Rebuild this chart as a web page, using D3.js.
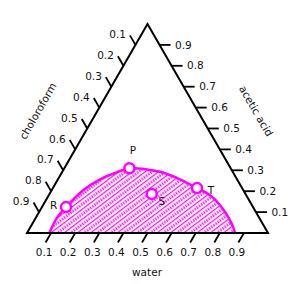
<!DOCTYPE html>
<html>
<head>
<meta charset="utf-8">
<script src="https://cdn.jsdelivr.net/npm/d3@7/dist/d3.min.js"></script>
<style>
  body { margin: 0; background: #fff; }
  svg text { font-family: "DejaVu Sans", Verdana, sans-serif; font-size: 10.5px; fill: #111; }
</style>
</head>
<body>
<svg></svg>
<script>
const width = 295;
const height = 284;

// axis tick values (same for all three sides)
const tickValues = [0.1, 0.2, 0.3, 0.4, 0.5, 0.6, 0.7, 0.8, 0.9];
const axisTitles = ['water', 'acetic acid', 'choloroform'];

// binodal curve, as (water, acetic acid) fractions
const binodalWater = [0.093, 0.088, 0.10, 0.131, 0.175, 0.227, 0.27, 0.36, 0.43, 0.533, 0.598, 0.68, 0.77, 0.833, 0.863];
const binodalAcid  = [0.0, 0.07, 0.124, 0.206, 0.257, 0.29, 0.31, 0.301, 0.286, 0.245, 0.215, 0.174, 0.102, 0.038, 0.0];

// marked points
const pointNames = ['R', 'P', 'S', 'T'];
const pointWater = [0.10, 0.27, 0.424, 0.598];
const pointAcid  = [0.124, 0.31, 0.187, 0.215];

const magenta = '#ff00ff';

const svg = d3.select('svg')
    .attr('width', width)
    .attr('height', height);

// ternary projection: water -> right corner, acetic acid -> top, chloroform -> left
const x = d3.scaleLinear().domain([0, 1]).range([27, 268]);
const y = d3.scaleLinear().domain([0, 1]).range([233, 24]);
const project = (w, a) => [x(w + a / 2), y(a)];

// hatch pattern: thin solid lines with dotted lines in between
const defs = svg.append('defs');
const pat = defs.append('pattern')
    .attr('id', 'hatch')
    .attr('patternUnits', 'userSpaceOnUse')
    .attr('width', 8)
    .attr('height', 8)
    .attr('patternTransform', 'rotate(-37)');
pat.append('line')
    .attr('x1', 0).attr('y1', 0.6).attr('x2', 8).attr('y2', 0.6)
    .attr('stroke', magenta).attr('stroke-width', 1.2);
pat.append('line')
    .attr('x1', 0).attr('y1', 4.6).attr('x2', 8).attr('y2', 4.6)
    .attr('stroke', magenta).attr('stroke-width', 2.6)
    .attr('stroke-dasharray', '1.4,1.3');

// binodal region
const curvePts = binodalWater.map((w, i) => project(w, binodalAcid[i]));
const line = d3.line().curve(d3.curveCatmullRom.alpha(0.5));

svg.append('path')
    .attr('d', line(curvePts) + 'Z')
    .attr('fill', 'url(#hatch)');

svg.append('path')
    .attr('d', line(curvePts))
    .attr('fill', 'none')
    .attr('stroke', magenta)
    .attr('stroke-width', 2.5);

// triangle
const A = project(0, 0), B = project(1, 0), C = project(0, 1);
svg.append('path')
    .attr('d', `M${A}L${B}L${C}Z`)
    .attr('fill', 'none')
    .attr('stroke', '#000')
    .attr('stroke-width', 2)
    .attr('stroke-linejoin', 'miter');

const tickLen = 11;
const ticks = svg.append('g').attr('stroke', '#000').attr('stroke-width', 1.8);

// water (bottom)
tickValues.forEach(v => {
    const p = project(v, 0);
    ticks.append('line')
        .attr('x1', p[0]).attr('y1', p[1])
        .attr('x2', p[0] - 0.5 * tickLen).attr('y2', p[1] + 0.866 * tickLen);
    svg.append('text')
        .attr('x', p[0] - 7).attr('y', p[1] + 19)
        .attr('dy', '0.35em')
        .attr('text-anchor', 'middle')
        .text(v);
});

// acetic acid (right)
tickValues.forEach(v => {
    const p = project(1 - v, v);
    ticks.append('line')
        .attr('x1', p[0]).attr('y1', p[1])
        .attr('x2', p[0] + tickLen).attr('y2', p[1]);
    svg.append('text')
        .attr('x', p[0] + 15.5).attr('y', p[1])
        .attr('dy', '0.35em')
        .attr('text-anchor', 'start')
        .text(v);
});

// chloroform (left)
tickValues.forEach(v => {
    const p = project(0, 1 - v);
    ticks.append('line')
        .attr('x1', p[0]).attr('y1', p[1])
        .attr('x2', p[0] - 0.5 * tickLen).attr('y2', p[1] - 0.866 * tickLen);
    svg.append('text')
        .attr('x', p[0] - 9.5).attr('y', p[1] - 10.5)
        .attr('dy', '0.35em')
        .attr('text-anchor', 'end')
        .text(v);
});

// axis titles
svg.append('text')
    .attr('x', 147).attr('y', 272)
    .attr('dy', '0.35em')
    .attr('text-anchor', 'middle')
    .text(axisTitles[0]);
svg.append('text')
    .attr('transform', 'translate(256,111) rotate(60)')
    .attr('dy', '0.35em')
    .attr('text-anchor', 'middle')
    .text(axisTitles[1]);
svg.append('text')
    .attr('transform', 'translate(38,111) rotate(-60)')
    .attr('dy', '0.35em')
    .attr('text-anchor', 'middle')
    .text(axisTitles[2]);

// points
const labelOffset = { R: [-12.5, -2], P: [3.5, -18], S: [10, 7], T: [14, 2] };
const pts = svg.append('g');
pointNames.forEach((name, i) => {
    const p = project(pointWater[i], pointAcid[i]);
    pts.append('circle')
        .attr('cx', p[0]).attr('cy', p[1])
        .attr('r', 5)
        .attr('fill', '#fff')
        .attr('stroke', magenta)
        .attr('stroke-width', 2.5);
    pts.append('text')
        .attr('x', p[0] + labelOffset[name][0])
        .attr('y', p[1] + labelOffset[name][1])
        .attr('dy', '0.35em')
        .attr('text-anchor', 'middle')
        .text(name);
});
</script>
</body>
</html>
